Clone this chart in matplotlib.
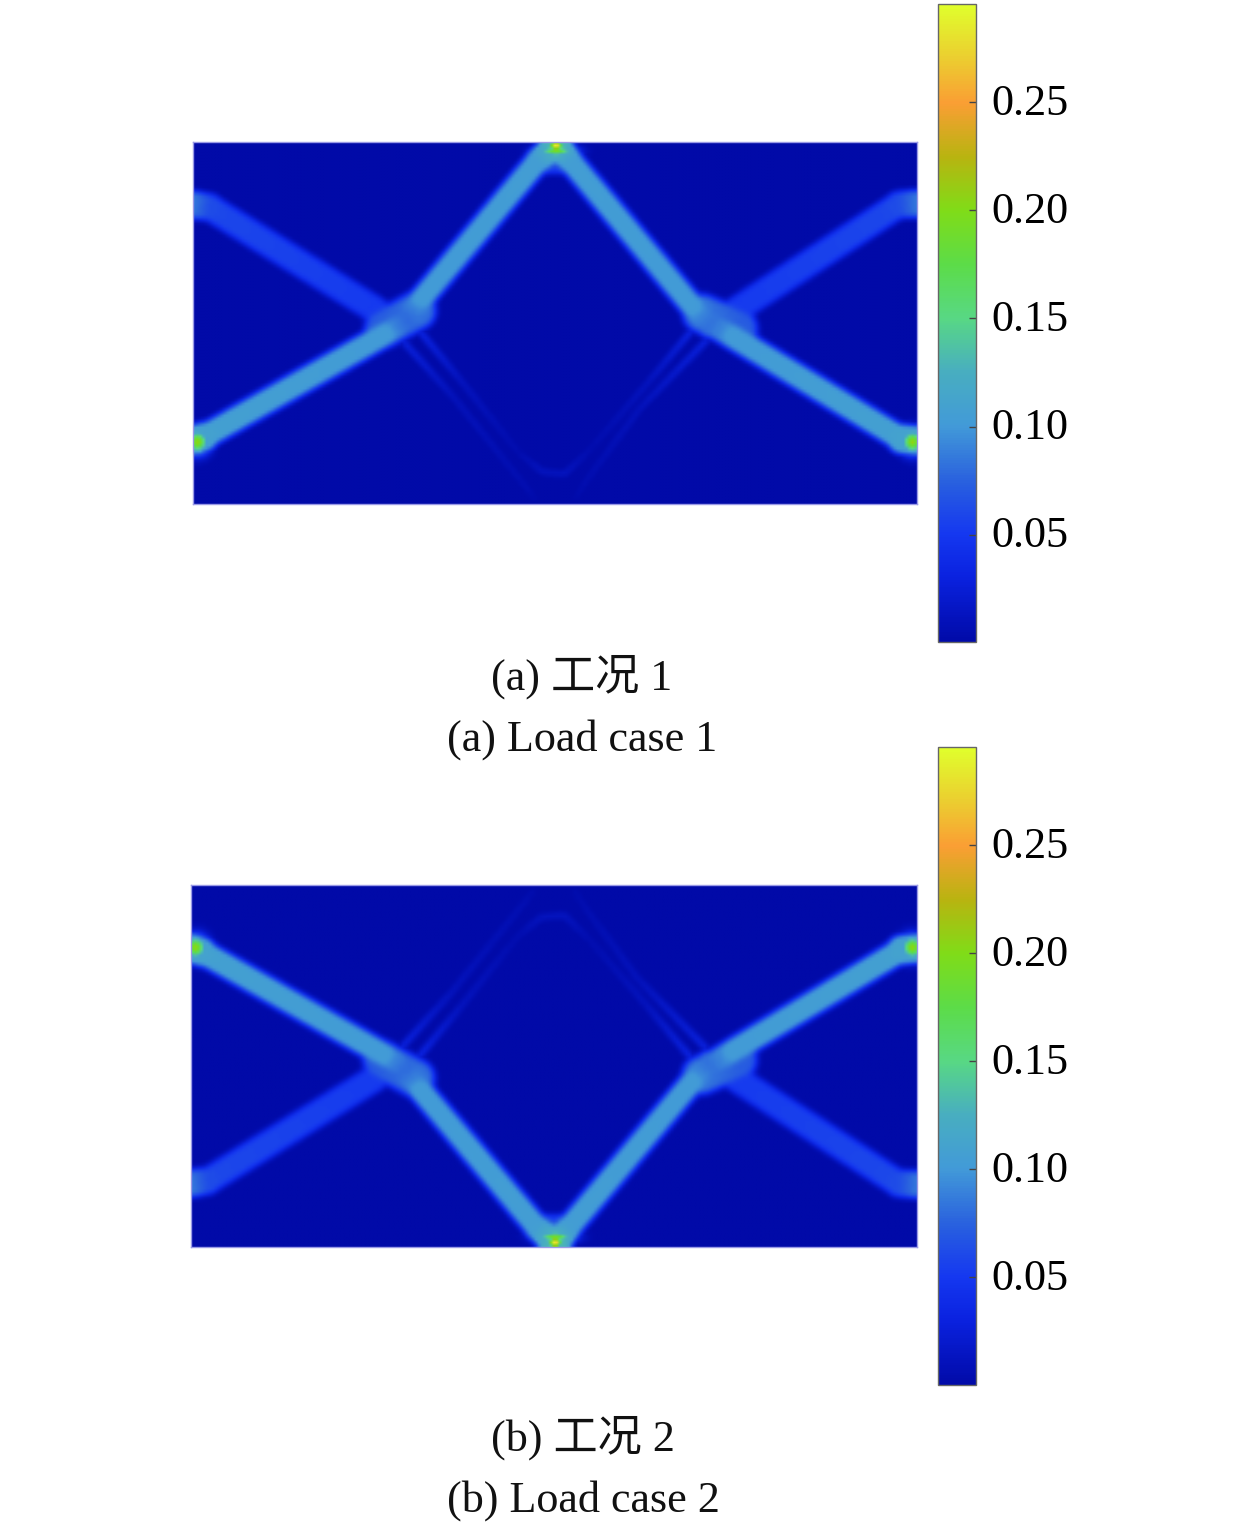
import numpy as np
import matplotlib
matplotlib.use('Agg')
import matplotlib.pyplot as plt
from matplotlib.colors import LinearSegmentedColormap
from matplotlib.transforms import ScaledTranslation

plt.rcParams['font.family'] = ['Liberation Serif', 'Noto Sans CJK SC']

W, H = 1260, 1530

# Colour bar
cbar_values = [0.0, 0.03, 0.05, 0.075, 0.10, 0.125, 0.15, 0.175, 0.20, 0.225, 0.25, 0.27, 0.2955]
cbar_colors = ['#010aa8', '#0a22e0', '#1538f0', '#2a62de', '#429ad8', '#48aec0', '#58d884', '#5cdc48',
               '#80dc18', '#b8b410', '#fa9e34', '#eccc30', '#e0ff2c']
cbar_ticks = [0.05, 0.10, 0.15, 0.20, 0.25]
vmin_1, vmax_1 = 0.0005, 0.2953
vmin_2, vmax_2 = 0.0, 0.2956

# Main struts: x0, y0, x1, y1, value at start, value at end, half width (panel is 120 x 60)
struts_1 = [
    (0.0, 49.7, 1.5, 49.1, 0.115, 0.11, 2.5),
    (1.5, 49.1, 31.5, 32.1, 0.108, 0.102, 2.1),
    (31.5, 32.1, 36.0, 29.5, 0.102, 0.075, 2.1),
    (0.0, 10.4, 2.5, 10.8, 0.085, 0.062, 2.3),
    (2.5, 10.8, 30.2, 27.9, 0.06, 0.052, 2.2),
    (38.0, 25.8, 57.2, 3.0, 0.102, 0.105, 2.05),
    (38.0, 25.8, 34.8, 29.6, 0.102, 0.075, 2.05),
    (57.2, 3.0, 59.5, 1.0, 0.105, 0.13, 2.2),
    (60.9, 1.0, 62.5, 3.0, 0.13, 0.105, 2.2),
    (62.5, 3.0, 82.8, 27.2, 0.105, 0.102, 2.05),
    (82.8, 27.2, 85.8, 30.6, 0.102, 0.08, 2.05),
    (89.8, 32.5, 117.7, 49.4, 0.102, 0.108, 2.1),
    (89.8, 32.5, 85.5, 29.9, 0.102, 0.08, 2.1),
    (117.7, 49.4, 120.0, 49.7, 0.11, 0.115, 2.5),
    (90.2, 27.9, 117.2, 10.4, 0.052, 0.06, 2.2),
    (117.2, 10.4, 120.0, 10.2, 0.062, 0.085, 2.3),
    (58.0, 3.6, 62.4, 3.6, 0.055, 0.055, 1.6),
]
struts_2 = [
    (0.0, 10.3, 1.5, 10.9, 0.115, 0.11, 2.5),
    (1.5, 10.9, 31.5, 27.9, 0.108, 0.102, 2.1),
    (31.5, 27.9, 36.0, 30.5, 0.102, 0.075, 2.1),
    (0.0, 49.6, 2.5, 49.2, 0.085, 0.062, 2.3),
    (2.5, 49.2, 30.2, 32.1, 0.06, 0.052, 2.2),
    (38.0, 34.2, 57.2, 57.0, 0.102, 0.105, 2.05),
    (38.0, 34.2, 34.8, 30.4, 0.102, 0.075, 2.05),
    (57.2, 57.0, 59.5, 59.0, 0.105, 0.13, 2.2),
    (60.9, 59.0, 62.5, 57.0, 0.13, 0.105, 2.2),
    (62.5, 57.0, 82.8, 32.8, 0.105, 0.102, 2.05),
    (82.8, 32.8, 85.8, 29.4, 0.102, 0.08, 2.05),
    (89.8, 27.4, 117.7, 10.6, 0.102, 0.108, 2.1),
    (89.8, 27.4, 85.5, 30.1, 0.102, 0.08, 2.1),
    (117.7, 10.6, 120.0, 10.3, 0.11, 0.115, 2.5),
    (90.2, 32.1, 117.2, 49.6, 0.052, 0.06, 2.2),
    (117.2, 49.6, 120.0, 49.8, 0.062, 0.085, 2.3),
    (58.0, 56.4, 62.4, 56.4, 0.055, 0.055, 1.6),
]

# Soft joints where the struts meet, same layout as the struts
joints_1 = [
    (31.5, 31.0, 37.0, 28.0, 0.072, 0.082, 3.2),
    (84.5, 28.5, 90.5, 31.0, 0.085, 0.072, 3.2),
]
joints_2 = [
    (31.5, 29.0, 37.0, 32.0, 0.072, 0.082, 3.2),
    (84.5, 31.5, 90.5, 29.0, 0.085, 0.072, 3.2),
]

# Faint double lines below (case 1) or above (case 2) the joints, values per vertex
faint_a = [(37.3, 31.2), (44.6, 40.0), (53.9, 51.6), (57.9, 54.9), (61.7, 55.2), (66.0, 51.0), (75.5, 40.0), (83.3, 30.7)]
faint_a_values = [0.05, 0.02, 0.008, 0.02, 0.02, 0.008, 0.02, 0.05]
faint_b = [(34.8, 33.2), (43.0, 42.3), (55.0, 57.2), (56.7, 59.4)]
faint_b_values = [0.045, 0.018, 0.01, 0.006]
faint_c = [(85.4, 32.8), (74.0, 44.5), (65.5, 56.0), (63.3, 59.4)]
faint_c_values = [0.045, 0.018, 0.01, 0.006]

# Hot spots at the supports and load point: x, y, peak value, x radius, y radius
hot_1 = [(60.2, 0.5, 0.295, 1.1, 0.9), (60.2, 1.4, 0.19, 3.0, 1.0), (0.5, 49.9, 0.205, 1.9, 2.0), (119.5, 49.9, 0.205, 1.9, 2.0)]
hot_2 = [(60.2, 59.5, 0.295, 1.1, 0.9), (60.2, 58.6, 0.19, 3.0, 1.0), (0.5, 10.2, 0.205, 1.9, 2.0), (119.5, 10.2, 0.205, 1.9, 2.0)]

xx, yy = np.meshgrid(np.linspace(0, 120, 241), np.linspace(0, 60, 121))


def strut_layer(seg, soft=0.9):
    x0, y0, x1, y1, v0, v1, hw = seg
    dx, dy = x1 - x0, y1 - y0
    t = np.clip(((xx - x0) * dx + (yy - y0) * dy) / (dx * dx + dy * dy), 0, 1)
    d = np.hypot(xx - x0 - t * dx, yy - y0 - t * dy)
    edge = np.clip((hw + soft / 2 - d) / soft, 0, 1)
    return (v0 + (v1 - v0) * t) * edge * edge * (3 - 2 * edge)


def blur(field, sigma):
    r = int(3 * sigma) + 1
    k = np.exp(-np.arange(-r, r + 1) ** 2 / (2 * sigma * sigma))
    k /= k.sum()
    pad = np.pad(field, r, mode='edge')
    pad = np.apply_along_axis(lambda m: np.convolve(m, k, mode='same'), 0, pad)
    pad = np.apply_along_axis(lambda m: np.convolve(m, k, mode='same'), 1, pad)
    return pad[r:-r, r:-r]


def build_field(struts, joints, hot, flip):
    field = np.zeros_like(xx)
    for seg in struts:
        field = np.maximum(field, strut_layer(seg))
    for seg in joints:
        field = np.maximum(field, strut_layer(seg, soft=1.5))
    field = blur(field, 0.9)
    lines = np.zeros_like(xx)
    for line, vals in ((faint_a, faint_a_values), (faint_b, faint_b_values), (faint_c, faint_c_values)):
        for i in range(len(line) - 1):
            (xa, ya), (xb, yb) = line[i], line[i + 1]
            if flip:
                ya, yb = 60 - ya, 60 - yb
            lines = np.maximum(lines, strut_layer((xa, ya, xb, yb, vals[i], vals[i + 1], 0.4), soft=0.7))
    field = np.maximum(field, blur(lines, 0.9))
    for hx, hy, hv, rx, ry in hot:
        blob = hv * np.exp(-((xx - hx) / rx) ** 2 - ((yy - hy) / ry) ** 2)
        field = np.maximum(field, blob)
    return field


def px_axes(fig, x0, y0, x1, y1):
    return fig.add_axes([x0 / W, 1 - y1 / H, (x1 - x0) / W, (y1 - y0) / H])


cmap = LinearSegmentedColormap.from_list(
    'stress', [(v / cbar_values[-1], c) for v, c in zip(cbar_values, cbar_colors)])

fig = plt.figure(figsize=(W / 100, H / 100), dpi=100)


def panel(box, cbox, field, vmin, vmax, captions):
    ax = px_axes(fig, *box)
    im = ax.imshow(field, cmap=cmap, vmin=vmin, vmax=vmax, extent=(0, 120, 60, 0),
                   aspect='auto', interpolation='bilinear')
    ax.set_xticks([])
    ax.set_yticks([])
    for s in ax.spines.values():
        s.set_color('#9a9ae6')
        s.set_linewidth(1.0)
    cax = px_axes(fig, *cbox)
    cb = fig.colorbar(im, cax=cax)
    cb.set_ticks(cbar_ticks)
    cb.set_ticklabels(['%.2f' % t for t in cbar_ticks])
    cb.ax.tick_params(direction='in', length=5, width=1, color='#444444', labelsize=31.8, pad=12)
    shift = ScaledTranslation(-1 / 100, 3 / 100, fig.dpi_scale_trans)
    for lab in cb.ax.get_yticklabels():
        lab.set_transform(lab.get_transform() + shift)
    cb.outline.set_edgecolor('#666666')
    cb.outline.set_linewidth(1.0)
    for text, px, py in captions:
        fig.text(px / W, 1 - py / H, text, ha='center', va='center', fontsize=31.8, color='#111111')


panel((193, 142, 917, 504), (938, 4, 976, 642), build_field(struts_1, joints_1, hot_1, False), vmin_1, vmax_1,
      [('(a) 工况 1', 582, 677), ('(a) Load case 1', 582.5, 740)])
panel((191, 885, 917, 1247), (938, 747, 976, 1385), build_field(struts_2, joints_2, hot_2, True), vmin_2, vmax_2,
      [('(b) 工况 2', 583, 1438), ('(b) Load case 2', 583, 1501)])

fig.savefig('out.png', dpi=100, facecolor='white')
